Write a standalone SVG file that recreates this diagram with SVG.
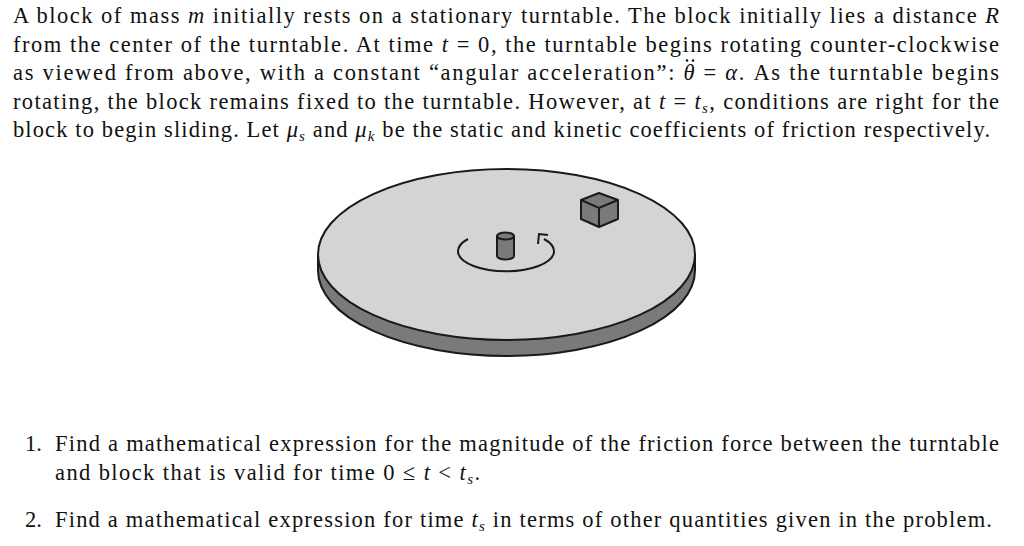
<svg xmlns="http://www.w3.org/2000/svg" width="1024" height="546" viewBox="0 0 1024 546">
<style>
text{font-family:"Liberation Serif","DejaVu Serif",serif;font-size:22.5px;fill:#111}
.i{font-style:italic}
.s{font-size:15px;font-style:italic}
.ln{stroke:#1a1a1a;stroke-width:2}
.dk{fill:#7a7a7c}
.lt{fill:#d3d4d6}
.no{fill:none}
</style>
<rect width="1024" height="546" fill="#fff"/>
<g id="problem-text">
<text x="13" y="23" textLength="986" lengthAdjust="spacing">A block of mass <tspan class="i">m</tspan> initially rests on a stationary turntable. The block initially lies a distance <tspan class="i">R</tspan></text>
<text x="13" y="52" textLength="986" lengthAdjust="spacing">from the center of the turntable. At time <tspan class="i">t</tspan> = 0, the turntable begins rotating counter-clockwise</text>
<text x="13" y="80" textLength="986" lengthAdjust="spacing">as viewed from above, with a constant “angular acceleration”: <tspan class="i">θ</tspan> = <tspan class="i">α</tspan>. As the turntable begins</text>
<circle cx="687" cy="60.5" r="1.3" fill="#111"/><circle cx="693" cy="60.5" r="1.3" fill="#111"/>
<text x="13" y="109" textLength="986" lengthAdjust="spacing">rotating, the block remains fixed to the turntable. However, at <tspan class="i">t</tspan> = <tspan class="i">t</tspan><tspan class="s" dy="4">s</tspan><tspan dy="-4">, conditions are right for the</tspan></text>
<text x="13" y="137" textLength="977" lengthAdjust="spacing">block to begin sliding. Let <tspan class="i">μ</tspan><tspan class="s" dy="4">s</tspan><tspan dy="-4"> and </tspan><tspan class="i">μ</tspan><tspan class="s" dy="4">k</tspan><tspan dy="-4"> be the static and kinetic coefficients of friction respectively.</tspan></text>
</g>
<g id="turntable">
<ellipse cx="506.5" cy="270.5" rx="188.5" ry="85.5" class="dk ln"/>
<rect x="318" y="254" width="377" height="16" class="dk"/>
<line x1="318" y1="254" x2="318" y2="270.5" class="ln"/>
<line x1="695" y1="254" x2="695" y2="270.5" class="ln"/>
<ellipse cx="506.5" cy="254.5" rx="188.5" ry="85.5" class="lt ln"/>
</g>
<g id="rotation-arrow">
<path d="M468 239 A48 20 0 1 0 544 239" class="ln no" stroke-width="1.8"/>
<path d="M538 244 L539 234 L548 235" class="ln no" stroke-width="1.8"/>
</g>
<g id="pin">
<path d="M497 236 V256 A8.5 3.5 0 0 0 514 256 V236 Z" class="dk ln"/>
<ellipse cx="505.5" cy="236" rx="8.5" ry="3.5" class="dk ln"/>
</g>
<g id="block">
<path d="M581 200 L599 193 L618 200 L618 219 L599 227 L581 219 Z" class="dk ln" stroke-linejoin="round"/>
<path d="M581 200 L599 208 L618 200 M599 208 V227" class="ln no"/>
</g>
<g id="questions">
<text x="25" y="451">1.</text>
<text x="55" y="451" textLength="944" lengthAdjust="spacing">Find a mathematical expression for the magnitude of the friction force between the turntable</text>
<text x="55" y="480" textLength="425" lengthAdjust="spacing">and block that is valid for time 0 ≤ <tspan class="i">t</tspan> &lt; <tspan class="i">t</tspan><tspan class="s" dy="4">s</tspan><tspan dy="-4">.</tspan></text>
<text x="25" y="527">2.</text>
<text x="55" y="527" textLength="937" lengthAdjust="spacing">Find a mathematical expression for time <tspan class="i">t</tspan><tspan class="s" dy="4">s</tspan><tspan dy="-4"> in terms of other quantities given in the problem.</tspan></text>
</g>
</svg>
